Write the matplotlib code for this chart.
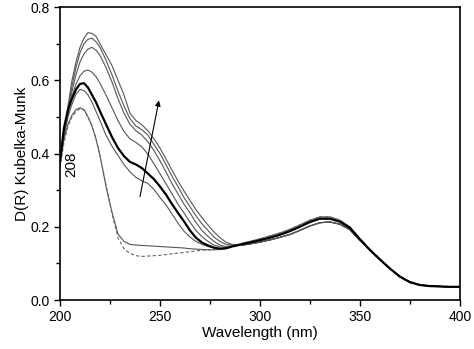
import numpy as np
import matplotlib
matplotlib.use("Agg")
import matplotlib.pyplot as plt
from matplotlib.ticker import MultipleLocator

plt.rcParams['font.family'] = ['Liberation Sans', 'DejaVu Sans']

# wavelength grid for the UV part (curves differ here)
wl_head = [200, 202, 204, 206, 208, 210, 212, 214, 216, 218, 220, 223, 226, 229, 232,
           235, 238, 241, 244, 247, 250, 253, 256, 259, 262, 265, 268, 271, 274, 277,
           280, 283, 286]

# thin curves, highest first
curve_a = [0.38, 0.45, 0.53, 0.60, 0.65, 0.69, 0.715, 0.73, 0.728, 0.72, 0.70, 0.67, 0.64,
           0.60, 0.56, 0.51, 0.49, 0.478, 0.462, 0.44, 0.415, 0.385, 0.355, 0.325, 0.298,
           0.272, 0.247, 0.225, 0.205, 0.186, 0.17, 0.158, 0.152]
curve_b = [0.38, 0.45, 0.52, 0.585, 0.635, 0.675, 0.70, 0.712, 0.715, 0.705, 0.69, 0.655,
           0.615, 0.57, 0.53, 0.495, 0.475, 0.465, 0.45, 0.425, 0.40, 0.37, 0.338, 0.31,
           0.28, 0.255, 0.23, 0.208, 0.19, 0.172, 0.16, 0.152, 0.15]
curve_c = [0.38, 0.45, 0.51, 0.57, 0.615, 0.65, 0.672, 0.685, 0.69, 0.682, 0.668, 0.635,
           0.595, 0.55, 0.51, 0.48, 0.462, 0.45, 0.432, 0.408, 0.38, 0.35, 0.318, 0.29,
           0.262, 0.238, 0.212, 0.19, 0.174, 0.16, 0.15, 0.146, 0.148]
curve_d = [0.38, 0.45, 0.51, 0.555, 0.59, 0.612, 0.625, 0.628, 0.622, 0.61, 0.592, 0.56,
           0.525, 0.49, 0.46, 0.44, 0.43, 0.418, 0.398, 0.372, 0.345, 0.318, 0.29, 0.262,
           0.238, 0.213, 0.19, 0.173, 0.16, 0.15, 0.145, 0.143, 0.147]
# bold curve
curve_e = [0.38, 0.47, 0.52, 0.55, 0.575, 0.59, 0.592, 0.58, 0.56, 0.54, 0.515, 0.48, 0.445,
           0.415, 0.393, 0.377, 0.37, 0.36, 0.345, 0.33, 0.31, 0.288, 0.262, 0.238, 0.215,
           0.19, 0.17, 0.157, 0.149, 0.143, 0.14, 0.141, 0.146]
curve_f = [0.37, 0.45, 0.50, 0.535, 0.562, 0.575, 0.572, 0.56, 0.54, 0.515, 0.49, 0.45, 0.42,
           0.395, 0.37, 0.35, 0.335, 0.325, 0.318, 0.302, 0.28, 0.26, 0.235, 0.21, 0.188,
           0.172, 0.16, 0.152, 0.146, 0.142, 0.14, 0.141, 0.146]
curve_g = [0.37, 0.44, 0.48, 0.505, 0.52, 0.525, 0.52, 0.50, 0.475, 0.44, 0.395, 0.31, 0.24,
           0.18, 0.16, 0.152, 0.15, 0.149, 0.148, 0.147, 0.146, 0.145, 0.144, 0.143, 0.142,
           0.14, 0.139, 0.138, 0.137, 0.137, 0.138, 0.141, 0.147]
# dashed curve
curve_h = [0.36, 0.43, 0.475, 0.50, 0.515, 0.522, 0.518, 0.50, 0.475, 0.44, 0.395, 0.315,
           0.235, 0.17, 0.14, 0.127, 0.121, 0.119, 0.12, 0.121, 0.122, 0.124, 0.126, 0.128,
           0.13, 0.132, 0.134, 0.136, 0.137, 0.138, 0.14, 0.143, 0.148]

# common part, 290-400 nm (three slightly separated bands)
wl_tail = [290, 295, 300, 305, 310, 315, 320, 325, 330, 335, 340, 345, 350, 355, 360, 365,
           370, 375, 380, 385, 390, 395, 400]
tail_hi = [0.153, 0.16, 0.167, 0.175, 0.183, 0.193, 0.205, 0.218, 0.227, 0.227, 0.218, 0.2,
           0.168, 0.138, 0.112, 0.087, 0.065, 0.049, 0.041, 0.038, 0.037, 0.036, 0.036]
tail_mid = [0.151, 0.157, 0.163, 0.17, 0.178, 0.188, 0.2, 0.213, 0.222, 0.222, 0.214, 0.197,
            0.166, 0.137, 0.111, 0.086, 0.064, 0.049, 0.041, 0.038, 0.037, 0.036, 0.036]
tail_lo = [0.149, 0.153, 0.158, 0.164, 0.171, 0.179, 0.19, 0.202, 0.211, 0.213, 0.207, 0.192,
           0.163, 0.136, 0.11, 0.086, 0.064, 0.048, 0.041, 0.038, 0.037, 0.036, 0.036]

wl = wl_head + wl_tail

fig = plt.figure(figsize=(4.74, 3.49), dpi=100)
ax = fig.add_axes([0.1266, 0.1404, 0.8434, 0.8395])

thin = dict(color="#555555", lw=0.8)
for head in [curve_a, curve_b, curve_c, curve_d]:
    ax.plot(wl, head + tail_lo, **thin)
ax.plot(wl, curve_f + tail_mid, **thin)
ax.plot(wl, curve_g + tail_hi, **thin)
ax.plot(wl, curve_h + tail_hi, color="#666666", lw=0.8, ls=(0, (3, 2)))
ax.plot(wl, curve_e + tail_mid, color="black", lw=1.6)

# arrow showing the trend
ax.annotate("", xy=(249.5, 0.545), xytext=(240, 0.282),
            arrowprops=dict(arrowstyle="-|>", color="black", lw=0.8,
                            mutation_scale=8, shrinkA=0, shrinkB=0))
ax.text(205.8, 0.372, "208", rotation=90, ha="center", va="center", fontsize=11)

ax.set_xlim(200, 400)
ax.set_ylim(0.0, 0.8)
ax.xaxis.set_major_locator(MultipleLocator(50))
ax.xaxis.set_minor_locator(MultipleLocator(25))
ax.yaxis.set_major_locator(MultipleLocator(0.2))
ax.yaxis.set_minor_locator(MultipleLocator(0.1))
ax.yaxis.set_major_formatter(plt.FormatStrFormatter("%.1f"))
ax.tick_params(which="both", direction="out", top=False, right=False, labelsize=10,
               width=1)
ax.tick_params(which="major", length=4)
ax.tick_params(which="minor", length=3)
for s in ax.spines.values():
    s.set_linewidth(1.2)

ax.set_xlabel("Wavelength (nm)", fontsize=11, labelpad=1)
ax.set_ylabel("D(R) Kubelka-Munk", fontsize=11, labelpad=1)

fig.savefig("out.png", dpi=100)
